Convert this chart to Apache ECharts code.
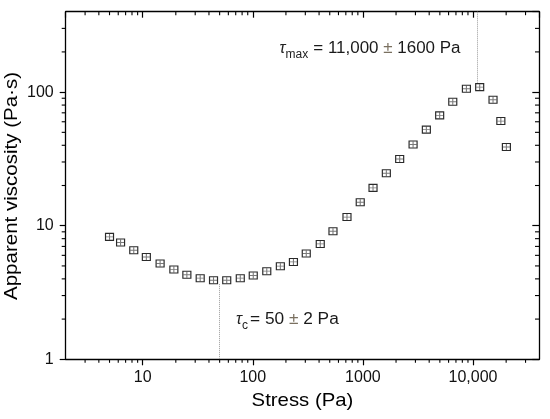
<!DOCTYPE html>
<html>
<head>
<meta charset="utf-8">
<script src="https://cdn.jsdelivr.net/npm/echarts@6/dist/echarts.min.js"></script>
<style>
  html, body { margin: 0; padding: 0; background: #fff; }
  #chart { width: 550px; height: 419px; }
</style>
</head>
<body>
<div id="chart"></div>
<script>
// ---- data ----
const stress = [5, 6.3, 8.3, 10.8, 14.4, 19.2, 25.2, 33.3, 44, 58, 77, 101, 134, 178, 234, 306,
                410, 535, 717, 946, 1236, 1633, 2158, 2856, 3770, 4980, 6550, 8710, 11500, 15200, 17900, 20100];
const viscosity = [8.25, 7.49, 6.56, 5.84, 5.22, 4.71, 4.29, 4.05, 3.91, 3.91, 4.05, 4.24, 4.57, 4.98, 5.36, 6.2,
                   7.31, 9.1, 11.6, 15.0, 19.2, 24.7, 31.6, 40.6, 52.4, 67, 84.8, 106, 109, 87.7, 60.7, 38.8];

// axis ranges
const xRange = [2, 40000];
const yRange = [1, 400];
// minor tick values
const xMinorTicks = [3, 4, 5, 6, 7, 8, 9, 20, 30, 40, 50, 60, 70, 80, 90, 200, 300, 400, 500, 600, 700, 800, 900,
                     2000, 3000, 4000, 5000, 6000, 7000, 8000, 9000, 20000, 30000];
const yMinorTicks = [2, 3, 4, 5, 6, 7, 8, 9, 20, 30, 40, 50, 60, 70, 80, 90, 200, 300];

// annotations
const tauC = 50;          // critical stress, Pa
const tauCLineTop = 3.65; // viscosity where dotted line starts
const tauMax = 11000;     // max stress, Pa
const tauMaxLineBottom = 118;
const labelTauMax = '= 11,000 ';
const labelTauMaxErr = ' 1600 Pa';
const labelTauC = '= 50 ';
const labelTauCErr = ' 2 Pa';
const xTitle = 'Stress (Pa)';
const yTitle = 'Apparent viscosity (Pa·s)';

const FONT = '"Liberation Sans", Arial, sans-serif';
const points = stress.map((s, i) => [s, viscosity[i]]);

const chart = echarts.init(document.getElementById('chart'), null, { renderer: 'canvas' });

function axisBase(extra) {
  return Object.assign({
    type: 'log', logBase: 10,
    splitLine: { show: false },
    axisLine: { show: true, onZero: false, lineStyle: { color: '#000', width: 1.3 } },
  }, extra);
}

const option = {
  animation: false,
  backgroundColor: '#fff',
  grid: { left: 65.7, right: 10.7, top: 11.7, bottom: 59.7, containLabel: false },
  xAxis: [
    axisBase({
      position: 'bottom', min: xRange[0], max: xRange[1],
      axisTick: { show: true, inside: false, length: 6, lineStyle: { color: '#000', width: 1.2 } },
      axisLabel: {
        fontSize: 16, color: '#111', fontFamily: FONT, margin: 10,
        showMinLabel: false, showMaxLabel: false,
        formatter: v => { const r = Math.round(v); return r >= 10000 ? r.toLocaleString('en-US') : String(r); }
      }
    }),
    axisBase({
      position: 'top', min: xRange[0], max: xRange[1],
      axisTick: { show: true, inside: true, length: 6, lineStyle: { color: '#000', width: 1.2 } },
      axisLabel: { show: false }
    })
  ],
  yAxis: [
    axisBase({
      position: 'left', min: yRange[0], max: yRange[1],
      axisTick: { show: true, inside: false, length: 6, lineStyle: { color: '#000', width: 1.2 } },
      axisLabel: {
        fontSize: 16, color: '#111', fontFamily: FONT, margin: 12,
        showMaxLabel: false,
        formatter: v => String(Math.round(v))
      }
    }),
    axisBase({
      position: 'right', min: yRange[0], max: yRange[1],
      axisTick: { show: true, inside: true, length: 7, lineStyle: { color: '#000', width: 1.2 } },
      axisLabel: { show: false }
    })
  ],
  series: [
    // minor ticks on x (bottom outward, top inward)
    {
      type: 'custom', xAxisIndex: 0, yAxisIndex: 0, silent: true, clip: false, z: 5,
      data: xMinorTicks.map(v => [v, yRange[0]]),
      renderItem: (params, api) => {
        const v = api.value(0);
        const b = api.coord([v, yRange[0]]);
        const t = api.coord([v, yRange[1]]);
        return { type: 'group', children: [
          { type: 'line', shape: { x1: b[0], y1: b[1], x2: b[0], y2: b[1] + 3.5 }, style: { stroke: '#000', lineWidth: 1.1 } },
          { type: 'line', shape: { x1: t[0], y1: t[1], x2: t[0], y2: t[1] + 3.5 }, style: { stroke: '#000', lineWidth: 1.1 } }
        ]};
      }
    },
    // minor ticks on y (left outward, right inward)
    {
      type: 'custom', xAxisIndex: 0, yAxisIndex: 0, silent: true, clip: false, z: 5,
      data: yMinorTicks.map(v => [xRange[0], v]),
      renderItem: (params, api) => {
        const v = api.value(1);
        const l = api.coord([xRange[0], v]);
        const r = api.coord([xRange[1], v]);
        return { type: 'group', children: [
          { type: 'line', shape: { x1: l[0] - 4, y1: l[1], x2: l[0], y2: l[1] }, style: { stroke: '#000', lineWidth: 1.1 } },
          { type: 'line', shape: { x1: r[0] - 4.3, y1: r[1], x2: r[0], y2: r[1] }, style: { stroke: '#000', lineWidth: 1.1 } }
        ]};
      }
    },
    // error-bar crosses inside markers
    {
      type: 'scatter', xAxisIndex: 0, yAxisIndex: 0, silent: true,
      data: points,
      symbol: 'path://M5 0V10M0 5H10',
      symbolSize: [7, 6],
      itemStyle: { color: 'transparent', borderColor: '#7a7a7a', borderWidth: 1, opacity: 1 },
      z: 3
    },
    // square markers
    {
      type: 'scatter', xAxisIndex: 0, yAxisIndex: 0, silent: true,
      data: points,
      symbol: 'rect',
      symbolSize: [8, 7],
      itemStyle: { color: 'transparent', borderColor: '#2a2a2a', borderWidth: 1.1, opacity: 1 },
      z: 4,
      markLine: {
        silent: true, symbol: 'none', animation: false,
        label: { show: false },
        lineStyle: { type: 'dotted', color: '#9a9a9a', width: 1 },
        emphasis: { disabled: true },
        data: [
          [{ coord: [tauC, tauCLineTop] }, { coord: [tauC, yRange[0]] }],
          [{ coord: [tauMax, yRange[1]] }, { coord: [tauMax, tauMaxLineBottom] }]
        ]
      }
    }
  ],
  graphic: [
    // axis titles
    { type: 'text', x: 302.5, y: 400.5, scaleX: 1.1,
      style: { text: xTitle, font: '18.5px ' + FONT, fill: '#000', align: 'center', verticalAlign: 'middle' } },
    { type: 'text', x: 12.5, y: 186, rotation: Math.PI / 2, scaleX: 1.14,
      style: { text: yTitle, font: '18px ' + FONT, fill: '#000', align: 'center', verticalAlign: 'middle' } },
    // tau_max annotation
    { type: 'text', x: 279.5, y: 48.3,
      style: { text: 'τ', font: 'italic 16px ' + FONT, fill: '#222', align: 'left', verticalAlign: 'middle' } },
    { type: 'text', x: 285.5, y: 54.5,
      style: { text: 'max', font: '12px ' + FONT, fill: '#222', align: 'left', verticalAlign: 'middle' } },
    { type: 'text', x: 313.3, y: 48.3, scaleX: 1.06,
      style: { text: '{a|' + labelTauMax + '}{b|±}{a|' + labelTauMaxErr + '}', align: 'left', verticalAlign: 'middle',
        rich: { a: { font: '16px ' + FONT, fill: '#1a1a1a' }, b: { font: '16px ' + FONT, fill: '#7a7060' } } } },
    // tau_c annotation
    { type: 'text', x: 236, y: 319.8,
      style: { text: 'τ', font: 'italic 16px ' + FONT, fill: '#222', align: 'left', verticalAlign: 'middle' } },
    { type: 'text', x: 242, y: 326,
      style: { text: 'c', font: '12px ' + FONT, fill: '#222', align: 'left', verticalAlign: 'middle' } },
    { type: 'text', x: 250, y: 319.8, scaleX: 1.08,
      style: { text: '{a|' + labelTauC + '}{b|±}{a|' + labelTauCErr + '}', align: 'left', verticalAlign: 'middle',
        rich: { a: { font: '16px ' + FONT, fill: '#1a1a1a' }, b: { font: '16px ' + FONT, fill: '#7a7060' } } } }
  ]
};

chart.setOption(option);
</script>
</body>
</html>
